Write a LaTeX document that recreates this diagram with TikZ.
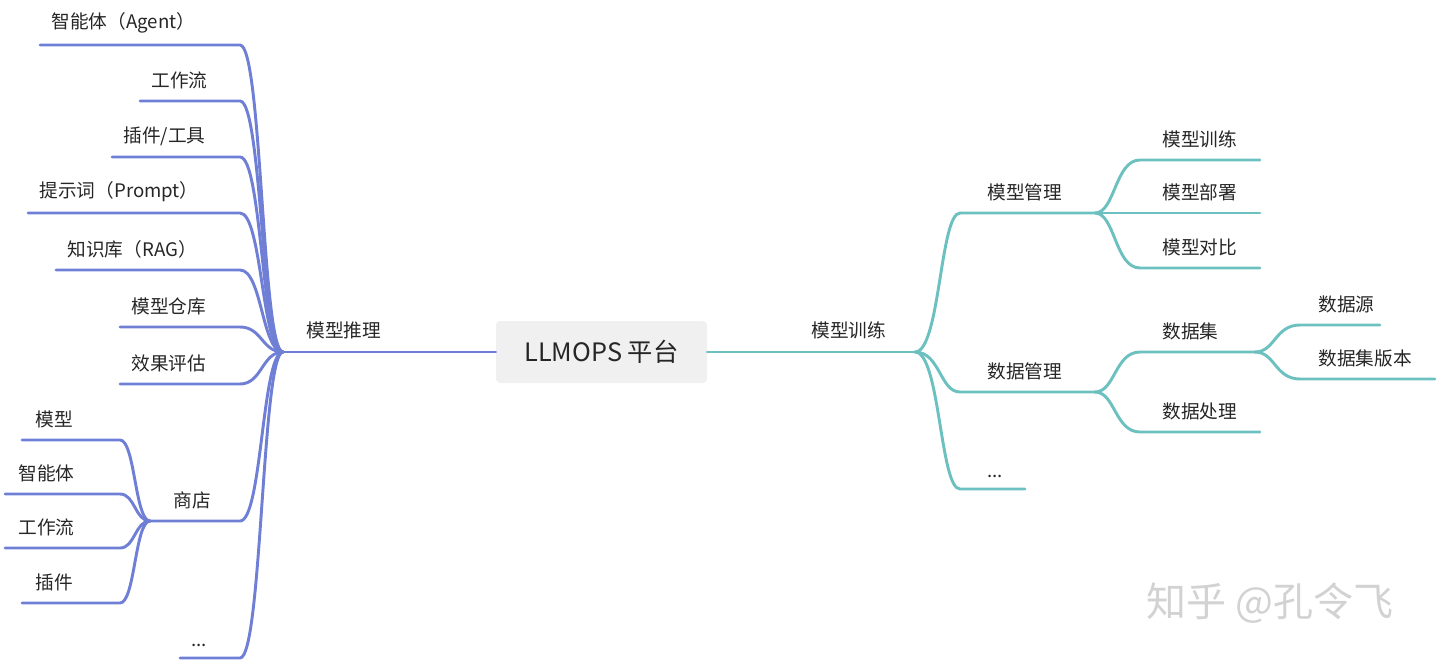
\documentclass[tikz,border=0pt]{standalone}
\usepackage{fontspec}
\setmainfont{Noto Sans CJK SC}
\begin{document}
\begin{tikzpicture}[x=0.75pt,y=-0.75pt,
  lb/.style={draw=blueL,line width=2.2pt,line cap=round},
  tb/.style={draw=tealL,line width=2.2pt,line cap=round},
  lbl/.style={anchor=south west,inner sep=1pt,yshift=3pt,font=\fontsize{14}{16}\selectfont,text=black!85}]
\definecolor{blueL}{HTML}{6F7FD6}
\definecolor{tealL}{HTML}{6CC1C0}
\useasboundingbox (0,0) rectangle (1440,662);
% center
\node[fill=gray!12,rounded corners=3pt,minimum width=211*0.75pt,minimum height=62*0.75pt,font=\fontsize{19}{22}\selectfont,text=black!85] (root) at (601.5,352) {LLMOPS 平台};
% left
\coordinate (Lh) at (283,352);
\draw[lb] (root.west) -- (Lh);
\node[lbl] (tl) at (305,345) {模型推理};
\foreach \n/\y/\xs in {a/45/40,b/101/140,c/157/112,d/213/28,e/270/56,f/327/120,g/384/120,h/521/150,i/658/180}{
  \coordinate (L\n e) at (240,\y);
  \coordinate (L\n s) at (\xs,\y);
  \draw[lb] (Lh) .. controls (262,352) and (262,\y) .. (L\n e) -- (L\n s);
}
\node[lbl] (na) at (50,39) {智能体（Agent）};
\node[lbl] (nb) at (150,95) {工作流};
\node[lbl] (nc) at (122,151) {插件/工具};
\node[lbl] (nd) at (38,207) {提示词（Prompt）};
\node[lbl] (ne) at (66,264) {知识库（RAG）};
\node[lbl] (nf) at (130,321) {模型仓库};
\node[lbl] (ng) at (130,378) {效果评估};
\node[lbl] (nh) at (172,515) {商店};
\node[lbl] (ni) at (190,652) {...};
\foreach \n/\y/\xs/\t in {a/440/22/模型,b/494/5/智能体,c/548/5/工作流,d/603/22/插件}{
  \coordinate (S\n e) at (120,\y);
  \coordinate (S\n s) at (\xs,\y);
  \draw[lb] (Lhs) .. controls (135,521) and (135,\y) .. (S\n e) -- (S\n s);
  \node[lbl] (s\n) at (\xs+12,\y-6) {\t};
}
% right
\coordinate (Rh) at (915,352);
\draw[tb] (root.east) -- (Rh);
\node[lbl] (tr) at (810,345) {模型训练};
\foreach \n/\y/\xe in {a/213/1095,b/392/1095,c/489/1025}{
  \coordinate (R\n s) at (960,\y);
  \coordinate (R\n e) at (\xe,\y);
  \draw[tb] (Rh) .. controls (940,352) and (940,\y) .. (R\n s) -- (R\n e);
}
\node[lbl] (ra) at (986,207) {模型管理};
\node[lbl] (rb) at (986,386) {数据管理};
\node[lbl] (rc) at (986,483) {...};
\foreach \n/\y/\t in {a/160/模型训练,b/213/模型部署,c/268/模型对比}{
  \coordinate (M\n e) at (1260,\y);
  \draw[tb] (Rae) .. controls (1115,213) and (1115,\y) .. (1140,\y) -- (M\n e);
  \node[lbl] (m\n) at (1161,\y-6) {\t};
}
\foreach \n/\y/\xe/\t in {a/352/1255/数据集,b/432/1260/数据处理}{
  \coordinate (D\n e) at (\xe,\y);
  \draw[tb] (Rbe) .. controls (1115,392) and (1115,\y) .. (1140,\y) -- (D\n e);
  \node[lbl] (d\n) at (1161,\y-6) {\t};
}
\foreach \n/\y/\xe/\t in {a/325/1380/数据源,b/379/1435/数据集版本}{
  \coordinate (E\n e) at (\xe,\y);
  \draw[tb] (Dae) .. controls (1275,352) and (1275,\y) .. (1300,\y) -- (E\n e);
  \node[lbl] (e\n) at (1317,\y-6) {\t};
}
% watermark
\node[font=\fontsize{30}{34}\selectfont,text=gray!35] (wm) at (1270,603) {知乎 @孔令飞};
\end{tikzpicture}
\end{document}
